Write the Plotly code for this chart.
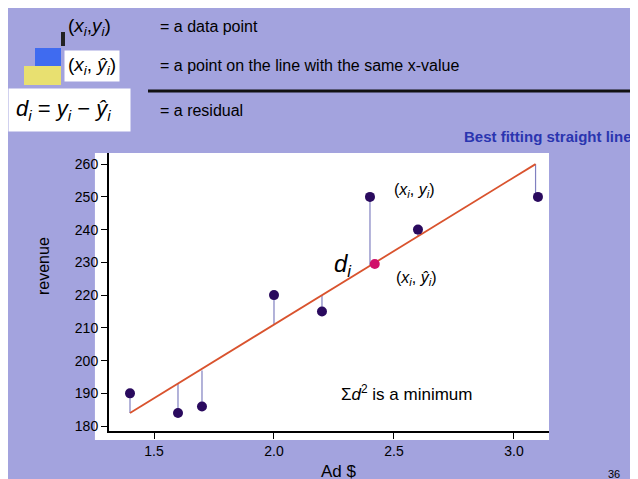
import plotly.graph_objects as go

ad = [1.4, 1.6, 1.7, 2.0, 2.2, 2.4, 2.6, 3.1]
revenue = [190, 184, 186, 220, 215, 250, 240, 250]
fitted = [184, 193, 197, 211, 220, 229, 238, 260]
fit_x = [1.4, 3.09]
fit_y = [184, 260]
res_x = [1.4, 1.6, 1.7, 2.0, 2.2, 2.4, 2.6, 3.09]
hat_pt = (2.42, 229.5)
x_ticks = [1.5, 2.0, 2.5, 3.0]
y_ticks = [180, 190, 200, 210, 220, 230, 240, 250, 260]

BG = "#A3A3DE"
F = "Liberation Sans, Arial, sans-serif"
fig = go.Figure()

sx, sy = [], []
for x, y, yh in zip(res_x, revenue, fitted):
    sx += [x, x, None]; sy += [y, yh, None]
fig.add_trace(go.Scatter(x=sx, y=sy, mode="lines", line=dict(color="#8080C0", width=1.2), hoverinfo="skip"))
fig.add_trace(go.Scatter(x=fit_x, y=fit_y, mode="lines", line=dict(color="#D9532E", width=1.8)))
fig.add_trace(go.Scatter(x=ad, y=revenue, mode="markers", marker=dict(color="#2A0A5E", size=10)))
fig.add_trace(go.Scatter(x=[hat_pt[0]], y=[hat_pt[1]], mode="markers", marker=dict(color="#D0106A", size=10)))

fig.update_xaxes(range=[1.3125, 3.146], tickvals=x_ticks, ticktext=["1.5", "2.0", "2.5", "3.0"],
                 showline=True, linecolor="black", linewidth=2, ticks="outside", ticklen=6, tickcolor="black",
                 showgrid=False, zeroline=False, tickfont=dict(family=F, size=14, color="black"))
fig.update_yaxes(range=[178.5, 263.4], tickvals=y_ticks, showline=True, linecolor="black", linewidth=2,
                 ticks="outside", ticklen=6, tickcolor="black", showgrid=False, zeroline=False,
                 tickfont=dict(family=F, size=14, color="black"))

def px(x): return (x-101)/440
def py(y): return (423-y)/278

shapes = [
    dict(type="rect", xref="paper", yref="paper", x0=-0.032, x1=1.0, y0=-0.032, y1=1.0,
         fillcolor="white", line=dict(width=0), layer="below"),
    dict(type="rect", xref="paper", yref="paper", x0=px(27), x1=px(53), y0=py(58), y1=py(40),
         fillcolor="#3F6BF0", line=dict(width=0)),
    dict(type="rect", xref="paper", yref="paper", x0=px(16), x1=px(53), y0=py(77), y1=py(58),
         fillcolor="#E8E070", line=dict(width=0)),
    dict(type="rect", xref="paper", yref="paper", x0=px(53), x1=px(57), y0=py(38), y1=py(24),
         fillcolor="#222222", line=dict(width=0)),
    dict(type="line", xref="paper", yref="paper", x0=px(140), x1=px(638), y0=py(83), y1=py(83),
         line=dict(color="#111111", width=3)),
]

ann = [
    dict(x=px(35), y=py(258), text="revenue", textangle=-90, font=dict(family=F, size=16, color="black")),
    dict(x=px(331), y=py(463), text="Ad $", font=dict(family=F, size=17, color="black")),
    dict(x=px(606), y=py(466), text="36", font=dict(family=F, size=11, color="black")),
    dict(x=px(626), y=py(129), xanchor="right", text="<b>Best fitting straight line</b>",
         font=dict(family=F, size=15, color="#2A35B0")),
    dict(x=px(58), y=py(19), xanchor="left", text="(<i>x<sub>i</sub></i>,<i>y<sub>i</sub></i>)",
         font=dict(family=F, size=19, color="black")),
    dict(x=px(150), y=py(19), xanchor="left", text="= a data point", font=dict(family=F, size=16, color="black")),
    dict(x=px(56), y=py(58), xanchor="left", text="(<i>x<sub>i</sub></i>, <i>y\u0302<sub>i</sub></i>)",
         bgcolor="white", borderpad=3, font=dict(family=F, size=19, color="black")),
    dict(x=px(150), y=py(58), xanchor="left", text="= a point on the line with the same x-value",
         font=dict(family=F, size=16, color="black")),
    dict(x=px(0), y=py(102), xanchor="left", text="<i>d<sub>i</sub></i> = <i>y<sub>i</sub></i> \u2212 <i>y\u0302<sub>i</sub></i>  ",
         bgcolor="white", borderpad=7, font=dict(family=F, size=22, color="black")),
    dict(x=px(150), y=py(102), xanchor="left", text="= a residual", font=dict(family=F, size=16, color="black")),
    dict(x=2.49, y=252, xanchor="left", text="(<i>x<sub>i</sub></i>, <i>y<sub>i</sub></i>)",
         font=dict(family=F, size=16, color="black")),
    dict(x=2.24, y=229, xanchor="left", text="<i>d<sub>i</sub></i>", font=dict(family=F, size=24, color="black")),
    dict(x=2.5, y=225, xanchor="left", text="(<i>x<sub>i</sub></i>, <i>y\u0302<sub>i</sub></i>)",
         font=dict(family=F, size=16, color="black")),
    dict(x=2.27, y=190, xanchor="left", text="\u03a3<i>d</i><sup>2</sup> is a minimum",
         font=dict(family=F, size=17, color="black")),
]
for i, a in enumerate(ann):
    a.setdefault("showarrow", False)
    a.setdefault("xanchor", "center")
    a["yanchor"] = "middle"
    if i >= 10:
        a["xref"] = "x"; a["yref"] = "y"
    else:
        a["xref"] = "paper"; a["yref"] = "paper"

fig.update_layout(width=638, height=479, margin=dict(l=101, r=97, t=145, b=56),
                  paper_bgcolor=BG, plot_bgcolor="white", showlegend=False,
                  shapes=shapes, annotations=ann)
fig.write_html("out.html")
